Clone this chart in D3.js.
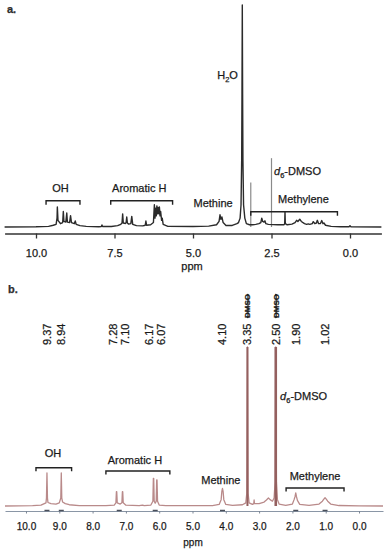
<!DOCTYPE html>
<html>
<head>
<meta charset="utf-8">
<script src="https://cdn.jsdelivr.net/npm/d3@7"></script>
<style>
  html, body { margin: 0; padding: 0; background: #fff; }
  svg { display: block; font-family: "Liberation Sans", Arial, sans-serif; }
  svg text { stroke: #1a1a1a; stroke-width: 0.25px; }
</style>
</head>
<body>
<svg id="chart" width="387" height="549"></svg>
<script>
// ---------------- DATA ----------------
// Panel a: spectrum vertices [ppm, intensity] (H2O peak = 100)
const spectrumA = [
  [11.0,0],[10.0,0.1],[9.6,0.3],[9.45,0.8],[9.36,1.2],[9.33,4],[9.32,9.0],[9.30,3],[9.22,1.5],[9.15,2],[9.13,7.0],[9.11,2.5],
  [9.05,2.2],[9.02,6.3],[9.0,2.2],[8.93,2],[8.90,5.1],[8.87,2],[8.78,1.5],[8.75,2.7],[8.72,1.2],[8.6,0.6],[8.4,0.3],[8.0,0.1],
  [7.92,0.2],[7.9,0.9],[7.88,0.2],[7.6,0.2],[7.4,0.6],[7.3,1.2],[7.26,1.8],[7.24,5.9],[7.22,1.8],[7.15,1.6],[7.13,2],[7.11,4.5],
  [7.09,1.8],[7.05,1.3],[6.98,1.5],[6.95,4.8],[6.92,1.2],[6.8,0.6],[6.6,0.5],[6.52,0.8],[6.5,2.7],[6.48,0.8],[6.35,1],[6.26,2],
  [6.23,10],[6.21,4],[6.19,8.5],[6.17,5],[6.15,9.5],[6.13,6],[6.11,8.8],[6.09,6],[6.07,9],[6.05,5],[6.03,7],[6.0,3],[5.98,4],
  [5.95,1.2],[5.8,0.3],[5.0,0.2],[4.5,0.4],[4.25,1],[4.17,2.5],[4.14,5.5],[4.11,3.5],[4.08,4.5],[4.04,2],[3.95,0.7],[3.75,0.7],
  [3.6,1.5],[3.55,2],[3.5,4],[3.47,10],[3.45,30],[3.44,60],[3.43,100],[3.42,60],[3.41,30],[3.39,10],[3.35,4],[3.3,1.5],
  [3.2,1],[3.1,1],[3.0,1.2],[2.9,1.5],[2.84,2],[2.81,4],[2.78,2.5],[2.74,2.2],[2.71,2.8],[2.68,1.5],[2.6,1.2],[2.3,1],[2.1,1],
  [2.08,1.5],[2.07,6.9],[2.06,1.5],[2.0,1],[1.85,1.3],[1.75,2],[1.7,3],[1.66,2.5],[1.6,3.5],[1.55,2.5],[1.45,1.5],[1.38,1.2],
  [1.33,1.4],[1.28,1.2],[1.2,1.5],[1.17,2.4],[1.12,1.5],[1.07,1.8],[1.04,3],[1.0,1.5],[0.94,1.6],[0.9,2.9],[0.86,1.5],[0.83,1.8],
  [0.78,0.8],[0.6,0.3],[0.3,0.1],[0.03,0.1],[0.0,0.6],[-0.03,0.1],[-1.0,0]
];
// Panel a: thin grey solvent lines [ppm, intensity]
const solventA = [[3.16,20],[2.50,31]];
// Panel a ticks
const majorTicksA = [10.0, 7.5, 5.0, 2.5, 0.0];
const minorTicksA = d3.range(-1.0, 11.01, 0.5);
// Panel a brackets [from ppm, to ppm, level]
const bracketsA = [[9.68,8.60,11.8],[7.62,5.65,11.8],[3.16,0.40,6.9]];
// Panel a labels [text, ppm, level]
const labelsA = [["OH",9.22,15.8],["Aromatic H",6.71,15.8],["Methine",4.36,9.0]];

// Panel b: spectrum vertices [ppm, intensity] (DMSO peak = 100)
const spectrumB = [
  [10.63,0],[9.8,0.2],[9.55,0.5],[9.45,1.5],[9.40,2],[9.385,5],[9.37,20.8],[9.355,5],[9.34,2.2],[9.25,1.5],[9.1,1.2],[9.0,2],
  [8.955,5],[8.94,20.8],[8.925,5],[8.9,2.5],[8.82,1.5],[8.7,0.8],[8.4,0.2],[7.6,0.2],[7.35,0.6],[7.30,2],[7.285,9],[7.275,9],
  [7.26,2],[7.17,1.2],[7.12,2],[7.105,9],[7.095,9],[7.08,2],[7.0,0.5],[6.6,0.2],[6.5,0.6],[6.45,0.2],[6.25,0.6],[6.19,3],
  [6.175,17.4],[6.165,17.4],[6.15,3],[6.12,1.8],[6.09,3],[6.075,16.4],[6.065,16.4],[6.05,3],[6.0,0.6],[5.8,0.2],[4.4,0.2],
  [4.2,1],[4.14,4],[4.12,9],[4.10,11.1],[4.08,9],[4.06,4],[4.0,1],[3.8,0.4],[3.5,0.8],[3.40,2],[3.37,8],[3.35,100],[3.33,8],
  [3.30,2],[3.2,1],[3.16,1.5],[3.15,3.8],[3.14,1.5],[3.0,1.5],[2.85,2.5],[2.78,3.8],[2.72,5],[2.67,4],[2.6,3],[2.55,5],[2.52,15],
  [2.50,100],[2.48,15],[2.45,4],[2.4,1.2],[2.2,0.4],[2.0,1.2],[1.95,4],[1.92,6],[1.90,8.2],[1.88,6],[1.85,3.5],[1.78,1],
  [1.5,0.4],[1.2,1.2],[1.1,3],[1.05,4.5],[1.02,5.2],[0.99,4.5],[0.94,3],[0.85,1.2],[0.6,0.3],[0,0.1],[-0.72,0]
];
const solventB = [3.35, 2.50];
const peakLabelsB = [9.37, 8.94, 7.28, 7.10, 6.17, 6.07, 4.10, 3.35, 2.50, 1.90, 1.02];
const dmsoPeaksB = [3.35, 2.50];
const integralMarksB = [9.37, 8.94, 7.20, 6.12, 4.10, 1.90, 1.02];
const majorTicksB = d3.range(0, 10.01, 1);
const minorTicksB = d3.range(-0.6, 10.61, 0.2);
const bracketsB = [[9.70,8.63,24.1],[7.60,5.68,22.0],[2.19,0.45,11.3]];
const labelsB = [["OH",9.19,30.8],["Aromatic H",6.73,26.4],["Methine",4.15,13.8],["Methylene",1.32,16.4]];

// ---------------- DRAW ----------------
const svg = d3.select("#chart");
const txt = "#1a1a1a";

// ===== Panel a =====
const xA = d3.scaleLinear().domain([11, -1]).range([4.6, 381.4]);
const yA = d3.scaleLinear().domain([0, 100]).range([227, 5]);
const axisYA = 233.5;

svg.append("text").attr("x", 7).attr("y", 13).attr("font-size", 11).attr("font-weight", "bold").attr("fill", "#333").text("a.");

const lineA = d3.line().x(d => xA(d[0])).y(d => yA(d[1]));
svg.append("g").selectAll("line").data(solventA).join("line")
  .attr("x1", d => xA(d[0])).attr("x2", d => xA(d[0]))
  .attr("y1", yA(0)).attr("y2", d => yA(d[1]))
  .attr("stroke", "#8a8a8a").attr("stroke-width", 1.2);
svg.append("path").datum(spectrumA).attr("d", lineA)
  .attr("fill", "none").attr("stroke", "#2b2b2b").attr("stroke-width", 1.4).attr("stroke-linejoin", "round");

// axis a
const gA = svg.append("g").attr("transform", `translate(0,${axisYA})`);
gA.call(d3.axisBottom(xA).tickValues(minorTicksA).tickFormat("").tickSize(3.5).tickSizeOuter(0));
gA.call(d3.axisBottom(xA).tickValues(majorTicksA).tickFormat(d3.format(".1f")).tickSize(5).tickPadding(11).tickSizeOuter(0));
gA.selectAll("path.domain").attr("stroke", "#333").attr("stroke-width", 1.5);
gA.selectAll(".tick line").attr("stroke", "#333").attr("stroke-width", 1.3);
gA.selectAll(".tick text").attr("font-size", 11).attr("font-family", "Liberation Sans, Arial, sans-serif").attr("fill", txt);
svg.append("text").attr("x", 192).attr("y", 270).attr("text-anchor", "middle").attr("font-size", 11).attr("fill", txt).text("ppm");

// brackets
function bracket(g, x, y, b, drop, color, w) {
  const x1 = x(b[0]), x2 = x(b[1]), yy = y(b[2]);
  g.append("path").attr("d", `M${x1},${yy + drop}V${yy}H${x2}V${yy + drop}`)
    .attr("fill", "none").attr("stroke", color).attr("stroke-width", w);
}
bracketsA.forEach(b => bracket(svg, xA, yA, b, 4, "#222", 1.4));
labelsA.forEach(l => svg.append("text").attr("x", xA(l[1])).attr("y", yA(l[2]))
  .attr("text-anchor", "middle").attr("font-size", 11).attr("fill", txt).text(l[0]));
svg.append("text").attr("x", xA(2.29)).attr("y", yA(10.8)).attr("font-size", 11).attr("fill", txt).text("Methylene");
const dA = svg.append("text").attr("x", xA(2.42)).attr("y", yA(23.4)).attr("font-size", 11).attr("fill", txt);
dA.append("tspan").attr("font-style", "italic").text("d");
dA.append("tspan").attr("font-size", 7.5).attr("dy", 3).text("6");
dA.append("tspan").attr("dy", -3).text("-DMSO");
const hA = svg.append("text").attr("x", xA(3.57)).attr("y", yA(66.7)).attr("text-anchor", "end").attr("font-size", 11).attr("fill", txt);
hA.append("tspan").text("H");
hA.append("tspan").attr("font-size", 7.5).attr("dy", 3).text("2");
hA.append("tspan").attr("dy", -3).text("O");

// ===== Panel b =====
const xB = d3.scaleLinear().domain([10.63, -0.72]).range([5, 383]);
const yB = d3.scaleLinear().domain([0, 100]).range([506, 347]);
const axisYB = 511;
const specCol = "#b98a8a";

svg.append("text").attr("x", 8).attr("y", 293).attr("font-size", 11).attr("font-weight", "bold").attr("fill", "#333").text("b.");

const lineB = d3.line().x(d => xB(d[0])).y(d => yB(d[1]));
svg.append("path").datum(spectrumB).attr("d", lineB)
  .attr("fill", "none").attr("stroke", specCol).attr("stroke-width", 1.3).attr("stroke-linejoin", "round");
svg.append("g").selectAll("line").data(solventB).join("line")
  .attr("x1", d => xB(d)).attr("x2", d => xB(d))
  .attr("y1", yB(0)).attr("y2", yB(100))
  .attr("stroke", "#94605f").attr("stroke-width", (d, i) => i === 0 ? 2 : 2.6);

// axis b
const gB = svg.append("g").attr("transform", `translate(0,${axisYB})`);
gB.call(d3.axisBottom(xB).tickValues(minorTicksB).tickFormat("").tickSize(2).tickSizeOuter(0));
gB.call(d3.axisBottom(xB).tickValues(majorTicksB).tickFormat(d3.format(".1f")).tickSize(2.5).tickPadding(9).tickSizeOuter(0));
gB.selectAll("path.domain").attr("stroke", "#8a96a6").attr("stroke-width", 1.2);
gB.selectAll(".tick line").attr("stroke", "#7c8796").attr("stroke-width", 1);
gB.selectAll(".tick text").attr("font-size", 10).attr("font-family", "Liberation Sans, Arial, sans-serif").attr("fill", txt);
svg.append("text").attr("x", 193).attr("y", 546).attr("text-anchor", "middle").attr("font-size", 10).attr("fill", txt).text("ppm");

// integral marks
svg.append("g").selectAll("line").data(integralMarksB).join("line")
  .attr("x1", d => xB(d) - 2.5).attr("x2", d => xB(d) + 2.5)
  .attr("y1", axisYB - 0.5).attr("y2", axisYB - 0.5)
  .attr("stroke", "#4a4f5a").attr("stroke-width", 1.5);

// peak labels (rotated) with simple de-overlap
const lx = peakLabelsB.map(p => xB(p));
for (let i = 1; i < lx.length; i++) {
  if (lx[i] - lx[i - 1] < 12) {
    const mid = (lx[i] + lx[i - 1]) / 2;
    lx[i - 1] = mid - 6; lx[i] = mid + 6;
  }
}
const plg = svg.append("g");
peakLabelsB.forEach((p, i) => {
  plg.append("text").attr("transform", `translate(${lx[i]},345) rotate(-90)`)
    .attr("dy", "0.35em").attr("font-size", 11).attr("fill", txt).text(d3.format(".2f")(p));
});
dmsoPeaksB.forEach(p => {
  svg.append("text").attr("transform", `translate(${xB(p)},318) rotate(-90)`)
    .attr("dy", "0.35em").attr("font-size", 8).attr("font-weight", "bold").attr("fill", "#222")
    .attr("text-decoration", "line-through").text("DMSO");
});

// brackets b
bracketsB.forEach(b => bracket(svg, xB, yB, b, 3.5, "#222", 1.4));
labelsB.forEach(l => svg.append("text").attr("x", xB(l[1])).attr("y", yB(l[2]))
  .attr("text-anchor", "middle").attr("font-size", 11).attr("fill", txt).text(l[0]));
const dB = svg.append("text").attr("x", xB(2.37)).attr("y", yB(66.7)).attr("font-size", 11).attr("fill", txt);
dB.append("tspan").attr("font-style", "italic").text("d");
dB.append("tspan").attr("font-size", 7.5).attr("dy", 3).text("6");
dB.append("tspan").attr("dy", -3).text("-DMSO");
</script>
</body>
</html>
